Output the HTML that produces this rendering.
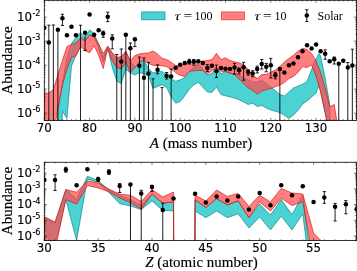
<!DOCTYPE html>
<html lang="en"><head><meta charset="utf-8"><title>Abundance vs mass number and atomic number</title>
<style>html,body{margin:0;padding:0;background:#fff}body{width:357px;height:271px;overflow:hidden}svg{display:block}</style>
</head><body>
<svg width="357" height="271" viewBox="0 0 357 271">
<rect width="357" height="271" fill="#fff"/>
<defs><clipPath id="ct"><rect x="44.3" y="0.3" width="312.2" height="120.1"/></clipPath><clipPath id="cb"><rect x="44.3" y="162.25" width="312.2" height="78.35"/></clipPath></defs>
<g clip-path="url(#ct)">
<path d="M44.3,400 L48.83,400 L53.36,400 L57.89,110 L62.42,84 L66.95,58 L71.48,43.5 L76.01,37.4 L80.54,32.2 L80.63,32.2 L85.07,38.5 L89.6,29.8 L94.13,33.4 L98.66,44.3 L103.19,58 L107.72,46.5 L112.25,53.5 L116.78,58.5 L121.31,57.5 L125.84,52 L130.37,61.5 L134.9,67.5 L139.43,62.5 L143.96,60.3 L148.49,68.5 L153.02,73 L157.55,71.8 L162.08,71.6 L166.61,75 L171.14,79 L175.67,81.3 L180.2,79.8 L184.73,77.6 L189.26,72.2 L193.79,67.5 L198.32,63.8 L202.85,69.8 L207.38,75.2 L211.91,73.3 L216.44,66.8 L220.97,74.1 L225.5,71.3 L230.03,73 L234.56,74.1 L239.09,75.5 L243.62,77.5 L248.15,80 L252.68,82 L257.21,82.4 L261.74,80.6 L266.27,83.5 L270.8,87.3 L275.33,90.6 L279.86,94.6 L284.39,95.9 L288.92,92 L293.45,88 L297.98,86.2 L302.51,84.2 L307.04,81.4 L311.57,69.6 L316.1,58.5 L318.82,53.6 L320.63,56 L325.16,78 L329.69,104 L334.22,400 L338.75,400 L338.75,400 L334.22,400 L329.69,134 L325.16,113 L320.63,92 L318.82,85.5 L316.1,93 L311.57,97 L307.04,100.9 L302.51,104.2 L297.98,110.4 L293.45,114.9 L288.92,118.5 L284.39,115.2 L279.86,112.6 L275.33,111.3 L270.8,110 L266.27,108 L261.74,105.4 L257.21,106.5 L252.68,103.2 L248.15,104.5 L243.62,102 L239.09,99.8 L234.56,98.1 L230.03,96.9 L225.5,95.8 L220.97,94.6 L216.44,87 L211.91,92.4 L207.38,92 L202.85,87.3 L198.32,82.3 L193.79,85 L189.26,89.2 L184.73,95.9 L180.2,101.5 L175.67,103.2 L171.14,96.8 L166.61,87.4 L162.08,84.8 L157.55,86.5 L153.02,88.4 L148.49,76 L143.96,74 L139.43,72.5 L134.9,75 L130.37,73 L125.84,69.3 L121.31,83.5 L116.78,81.3 L112.25,67.4 L107.72,48.5 L103.19,62 L98.66,47.3 L94.13,37 L89.6,35.2 L85.07,40.8 L80.63,37.6 L80.54,46.6 L76.01,55.6 L71.48,66 L66.95,118.5 L62.42,111.3 L57.89,400 L53.36,400 L48.83,400 L44.3,400Z" fill="rgb(0,191,191)" fill-opacity="0.7" stroke="rgb(0,120,120)" stroke-opacity="0.75" stroke-width="0.8" stroke-linejoin="round"/>
<clipPath id="cy1"><path d="M44.3,400 L48.83,400 L53.36,400 L57.89,110 L62.42,84 L66.95,58 L71.48,43.5 L76.01,37.4 L80.54,32.2 L80.63,32.2 L85.07,38.5 L89.6,29.8 L94.13,33.4 L98.66,44.3 L103.19,58 L107.72,46.5 L112.25,53.5 L116.78,58.5 L121.31,57.5 L125.84,52 L130.37,61.5 L134.9,67.5 L139.43,62.5 L143.96,60.3 L148.49,68.5 L153.02,73 L157.55,71.8 L162.08,71.6 L166.61,75 L171.14,79 L175.67,81.3 L180.2,79.8 L184.73,77.6 L189.26,72.2 L193.79,67.5 L198.32,63.8 L202.85,69.8 L207.38,75.2 L211.91,73.3 L216.44,66.8 L220.97,74.1 L225.5,71.3 L230.03,73 L234.56,74.1 L239.09,75.5 L243.62,77.5 L248.15,80 L252.68,82 L257.21,82.4 L261.74,80.6 L266.27,83.5 L270.8,87.3 L275.33,90.6 L279.86,94.6 L284.39,95.9 L288.92,92 L293.45,88 L297.98,86.2 L302.51,84.2 L307.04,81.4 L311.57,69.6 L316.1,58.5 L318.82,53.6 L320.63,56 L325.16,78 L329.69,104 L334.22,400 L338.75,400 L338.75,400 L334.22,400 L329.69,134 L325.16,113 L320.63,92 L318.82,85.5 L316.1,93 L311.57,97 L307.04,100.9 L302.51,104.2 L297.98,110.4 L293.45,114.9 L288.92,118.5 L284.39,115.2 L279.86,112.6 L275.33,111.3 L270.8,110 L266.27,108 L261.74,105.4 L257.21,106.5 L252.68,103.2 L248.15,104.5 L243.62,102 L239.09,99.8 L234.56,98.1 L230.03,96.9 L225.5,95.8 L220.97,94.6 L216.44,87 L211.91,92.4 L207.38,92 L202.85,87.3 L198.32,82.3 L193.79,85 L189.26,89.2 L184.73,95.9 L180.2,101.5 L175.67,103.2 L171.14,96.8 L166.61,87.4 L162.08,84.8 L157.55,86.5 L153.02,88.4 L148.49,76 L143.96,74 L139.43,72.5 L134.9,75 L130.37,73 L125.84,69.3 L121.31,83.5 L116.78,81.3 L112.25,67.4 L107.72,48.5 L103.19,62 L98.66,47.3 L94.13,37 L89.6,35.2 L85.07,40.8 L80.63,37.6 L80.54,46.6 L76.01,55.6 L71.48,66 L66.95,118.5 L62.42,111.3 L57.89,400 L53.36,400 L48.83,400 L44.3,400Z"/></clipPath>
<path d="M44.3,93.4 L48.83,93 L53.36,89.5 L57.89,75 L62.42,60.5 L66.95,46.6 L71.48,44.4 L76.01,43 L80.54,38 L80.63,38 L85.07,40.8 L89.6,35.2 L94.13,36.8 L98.66,44 L103.19,53.5 L107.72,46.2 L112.25,52.8 L116.78,57.5 L121.31,56.5 L125.84,51.2 L130.37,60.7 L134.9,55.6 L139.43,54 L143.96,53.2 L148.49,53 L153.02,51.1 L157.55,54 L162.08,58.4 L166.61,59.6 L171.14,62.2 L175.67,65.5 L180.2,66 L184.73,63.5 L189.26,62.5 L193.79,62 L198.32,61.5 L202.85,61.2 L207.38,60.6 L211.91,59.5 L216.44,53.4 L220.97,59.5 L225.5,57.8 L230.03,60.6 L234.56,61.8 L239.09,62.9 L243.62,64.6 L248.15,69.6 L252.68,75.2 L257.21,78.5 L261.74,74.6 L266.27,74.5 L270.8,72.3 L275.33,70 L279.86,66.5 L284.39,62 L288.92,58.5 L293.45,55.2 L297.98,51.3 L302.51,48.2 L307.04,49.5 L311.57,53.5 L316.1,61 L318.82,68 L320.63,72.5 L325.16,88 L329.69,106.8 L334.22,104.6 L338.75,133 L338.75,400 L334.22,400 L329.69,134 L325.16,113 L320.63,92 L318.82,85.5 L316.1,76 L311.57,65 L307.04,67.5 L302.51,66.7 L297.98,72.4 L293.45,76.4 L288.92,78.6 L284.39,82.5 L279.86,85 L275.33,86.7 L270.8,88.4 L266.27,89.5 L261.74,91 L257.21,94 L252.68,90.6 L248.15,87.8 L243.62,83.4 L239.09,79 L234.56,74.5 L230.03,73.2 L225.5,71.5 L220.97,71.3 L216.44,67.5 L211.91,70.7 L207.38,74.1 L202.85,70.4 L198.32,70.4 L193.79,70.8 L189.26,71.2 L184.73,76.5 L180.2,75.4 L175.67,72.6 L171.14,69.2 L166.61,66.8 L162.08,65.7 L157.55,65.7 L153.02,65.2 L148.49,63.5 L143.96,60.1 L139.43,62 L134.9,67.4 L130.37,72.5 L125.84,62 L121.31,69 L116.78,67.4 L112.25,60.7 L107.72,48.8 L103.19,68.5 L98.66,55 L94.13,45.8 L89.6,52.8 L85.07,50.6 L80.63,46.6 L80.54,46.6 L76.01,55.6 L71.48,57.5 L66.95,69.5 L62.42,85 L57.89,108 L53.36,136 L48.83,400 L44.3,400Z" fill="rgb(255,0,0)" fill-opacity="0.5"/>
<g clip-path="url(#cy1)"><path d="M44.3,93.4 L48.83,93 L53.36,89.5 L57.89,75 L62.42,60.5 L66.95,46.6 L71.48,44.4 L76.01,43 L80.54,38 L80.63,38 L85.07,40.8 L89.6,35.2 L94.13,36.8 L98.66,44 L103.19,53.5 L107.72,46.2 L112.25,52.8 L116.78,57.5 L121.31,56.5 L125.84,51.2 L130.37,60.7 L134.9,55.6 L139.43,54 L143.96,53.2 L148.49,53 L153.02,51.1 L157.55,54 L162.08,58.4 L166.61,59.6 L171.14,62.2 L175.67,65.5 L180.2,66 L184.73,63.5 L189.26,62.5 L193.79,62 L198.32,61.5 L202.85,61.2 L207.38,60.6 L211.91,59.5 L216.44,53.4 L220.97,59.5 L225.5,57.8 L230.03,60.6 L234.56,61.8 L239.09,62.9 L243.62,64.6 L248.15,69.6 L252.68,75.2 L257.21,78.5 L261.74,74.6 L266.27,74.5 L270.8,72.3 L275.33,70 L279.86,66.5 L284.39,62 L288.92,58.5 L293.45,55.2 L297.98,51.3 L302.51,48.2 L307.04,49.5 L311.57,53.5 L316.1,61 L318.82,68 L320.63,72.5 L325.16,88 L329.69,106.8 L334.22,104.6 L338.75,133 L338.75,400 L334.22,400 L329.69,134 L325.16,113 L320.63,92 L318.82,85.5 L316.1,76 L311.57,65 L307.04,67.5 L302.51,66.7 L297.98,72.4 L293.45,76.4 L288.92,78.6 L284.39,82.5 L279.86,85 L275.33,86.7 L270.8,88.4 L266.27,89.5 L261.74,91 L257.21,94 L252.68,90.6 L248.15,87.8 L243.62,83.4 L239.09,79 L234.56,74.5 L230.03,73.2 L225.5,71.5 L220.97,71.3 L216.44,67.5 L211.91,70.7 L207.38,74.1 L202.85,70.4 L198.32,70.4 L193.79,70.8 L189.26,71.2 L184.73,76.5 L180.2,75.4 L175.67,72.6 L171.14,69.2 L166.61,66.8 L162.08,65.7 L157.55,65.7 L153.02,65.2 L148.49,63.5 L143.96,60.1 L139.43,62 L134.9,67.4 L130.37,72.5 L125.84,62 L121.31,69 L116.78,67.4 L112.25,60.7 L107.72,48.8 L103.19,68.5 L98.66,55 L94.13,45.8 L89.6,52.8 L85.07,50.6 L80.63,46.6 L80.54,46.6 L76.01,55.6 L71.48,57.5 L66.95,69.5 L62.42,85 L57.89,108 L53.36,136 L48.83,400 L44.3,400Z" fill="rgb(211,109,113)"/></g>
<path d="M44.3,93.4 L48.83,93 L53.36,89.5 L57.89,75 L62.42,60.5 L66.95,46.6 L71.48,44.4 L76.01,43 L80.54,38 L80.63,38 L85.07,40.8 L89.6,35.2 L94.13,36.8 L98.66,44 L103.19,53.5 L107.72,46.2 L112.25,52.8 L116.78,57.5 L121.31,56.5 L125.84,51.2 L130.37,60.7 L134.9,55.6 L139.43,54 L143.96,53.2 L148.49,53 L153.02,51.1 L157.55,54 L162.08,58.4 L166.61,59.6 L171.14,62.2 L175.67,65.5 L180.2,66 L184.73,63.5 L189.26,62.5 L193.79,62 L198.32,61.5 L202.85,61.2 L207.38,60.6 L211.91,59.5 L216.44,53.4 L220.97,59.5 L225.5,57.8 L230.03,60.6 L234.56,61.8 L239.09,62.9 L243.62,64.6 L248.15,69.6 L252.68,75.2 L257.21,78.5 L261.74,74.6 L266.27,74.5 L270.8,72.3 L275.33,70 L279.86,66.5 L284.39,62 L288.92,58.5 L293.45,55.2 L297.98,51.3 L302.51,48.2 L307.04,49.5 L311.57,53.5 L316.1,61 L318.82,68 L320.63,72.5 L325.16,88 L329.69,106.8 L334.22,104.6 L338.75,133 L338.75,400 L334.22,400 L329.69,134 L325.16,113 L320.63,92 L318.82,85.5 L316.1,76 L311.57,65 L307.04,67.5 L302.51,66.7 L297.98,72.4 L293.45,76.4 L288.92,78.6 L284.39,82.5 L279.86,85 L275.33,86.7 L270.8,88.4 L266.27,89.5 L261.74,91 L257.21,94 L252.68,90.6 L248.15,87.8 L243.62,83.4 L239.09,79 L234.56,74.5 L230.03,73.2 L225.5,71.5 L220.97,71.3 L216.44,67.5 L211.91,70.7 L207.38,74.1 L202.85,70.4 L198.32,70.4 L193.79,70.8 L189.26,71.2 L184.73,76.5 L180.2,75.4 L175.67,72.6 L171.14,69.2 L166.61,66.8 L162.08,65.7 L157.55,65.7 L153.02,65.2 L148.49,63.5 L143.96,60.1 L139.43,62 L134.9,67.4 L130.37,72.5 L125.84,62 L121.31,69 L116.78,67.4 L112.25,60.7 L107.72,48.8 L103.19,68.5 L98.66,55 L94.13,45.8 L89.6,52.8 L85.07,50.6 L80.63,46.6 L80.54,46.6 L76.01,55.6 L71.48,57.5 L66.95,69.5 L62.42,85 L57.89,108 L53.36,136 L48.83,400 L44.3,400Z" fill="none" stroke="rgb(225,20,20)" stroke-opacity="0.8" stroke-width="0.85" stroke-linejoin="round"/>
<path d="M48.83,25.2V125M47.23,25.2H50.43M47.23,125H50.43M53.36,25V125M51.76,25H54.96M51.76,125H54.96M57.89,29.8V125M56.29,125H59.49M62.42,14.3V25.5M60.82,14.3H64.02M60.82,25.5H64.02M80.54,25.2V125M78.94,25.2H82.14M78.94,125H82.14M85.07,32.8V50.4M83.47,50.4H86.67M103.19,31.2V37.3M101.59,31.2H104.79M101.59,37.3H104.79M107.72,12.2V21.6M106.12,12.2H109.32M106.12,21.6H109.32M112.25,34.8V48.8M110.65,34.8H113.85M110.65,48.8H113.85M116.78,54.5V125M115.18,54.5H118.38M115.18,125H118.38M121.31,49V125M119.71,49H122.91M119.71,125H122.91M125.84,34.8V125M124.24,125H127.44M130.37,43V125M128.77,43H131.97M128.77,125H131.97M134.9,39.3V46.6M133.3,46.6H136.5M139.43,57.1V125M137.83,57.1H141.03M137.83,125H141.03M143.96,58V125M142.36,58H145.56M142.36,125H145.56M148.49,62.4V125M146.89,62.4H150.09M146.89,125H150.09M153.02,78.8V125M151.42,78.8H154.62M151.42,125H154.62M157.55,64.9V73.7M155.95,64.9H159.15M155.95,73.7H159.15M162.08,87.6V125M160.48,87.6H163.68M160.48,125H163.68M166.61,72.5V79M165.01,72.5H168.21M165.01,79H168.21M171.14,69.1V125M169.54,69.1H172.74M169.54,125H172.74M189.26,59.3V64M187.66,59.3H190.86M187.66,64H190.86M193.79,59.5V65.1M192.19,59.5H195.39M192.19,65.1H195.39M207.38,64.6V71.4M205.78,64.6H208.98M205.78,71.4H208.98M216.44,65.1V77.5M214.84,65.1H218.04M214.84,77.5H218.04M234.56,63.4V74.1M232.96,63.4H236.16M232.96,74.1H236.16M239.09,68V74M237.49,68H240.69M237.49,74H240.69M243.62,62.3V80.2M242.02,62.3H245.22M242.02,80.2H245.22M248.15,69.8V75.2M246.55,69.8H249.75M246.55,75.2H249.75M252.68,70.7V76.8M251.08,70.7H254.28M251.08,76.8H254.28M257.21,66.2V72.9M255.61,66.2H258.81M255.61,72.9H258.81M261.74,59.5V69M260.14,59.5H263.34M260.14,69H263.34M266.27,63.4V71.8M264.67,63.4H267.87M264.67,71.8H267.87M270.8,58.4V78M269.2,58.4H272.4M269.2,78H272.4M275.33,72.4V78.8M273.73,72.4H276.93M273.73,78.8H276.93M279.86,69V125M278.26,125H281.46M325.16,49.9V59.3M323.56,49.9H326.76M323.56,59.3H326.76M334.22,57V64M332.62,57H335.82M332.62,64H335.82M338.75,63.8V125M337.15,125H340.35M347.81,62.5V125M346.21,62.5H349.41M346.21,125H349.41M352.34,49.2V125M350.74,49.2H353.94M350.74,125H353.94" stroke="#000" stroke-width="0.88" fill="none"/>
<g fill="#000"><circle cx="44.3" cy="27.8" r="2.25"/><circle cx="48.83" cy="42.4" r="2.25"/><circle cx="57.89" cy="29.8" r="2.25"/><circle cx="62.42" cy="18.2" r="2.25"/><circle cx="66.95" cy="35.3" r="2.25"/><circle cx="71.48" cy="26.7" r="2.25"/><circle cx="76.01" cy="35.3" r="2.25"/><circle cx="85.07" cy="32.8" r="2.25"/><circle cx="89.6" cy="14.6" r="2.25"/><circle cx="94.13" cy="34.7" r="2.25"/><circle cx="98.66" cy="30.3" r="2.25"/><circle cx="103.19" cy="33.5" r="2.25"/><circle cx="107.72" cy="16.8" r="2.25"/><circle cx="112.25" cy="38.4" r="2.25"/><circle cx="121.31" cy="61.5" r="2.25"/><circle cx="125.84" cy="34.8" r="2.25"/><circle cx="130.37" cy="48.3" r="2.25"/><circle cx="134.9" cy="39.3" r="2.25"/><circle cx="139.43" cy="65.7" r="2.25"/><circle cx="143.96" cy="77.8" r="2.25"/><circle cx="148.49" cy="73.4" r="2.25"/><circle cx="157.55" cy="69.8" r="2.25"/><circle cx="166.61" cy="75.7" r="2.25"/><circle cx="171.14" cy="76.5" r="2.25"/><circle cx="175.67" cy="67.8" r="2.25"/><circle cx="180.2" cy="64.7" r="2.25"/><circle cx="184.73" cy="63" r="2.25"/><circle cx="189.26" cy="61.7" r="2.25"/><circle cx="193.79" cy="61.8" r="2.25"/><circle cx="198.32" cy="61.3" r="2.25"/><circle cx="202.85" cy="63" r="2.25"/><circle cx="207.38" cy="68" r="2.25"/><circle cx="211.91" cy="65.8" r="2.25"/><circle cx="216.44" cy="71.3" r="2.25"/><circle cx="220.97" cy="68" r="2.25"/><circle cx="225.5" cy="68.7" r="2.25"/><circle cx="230.03" cy="69" r="2.25"/><circle cx="234.56" cy="67.4" r="2.25"/><circle cx="239.09" cy="70.2" r="2.25"/><circle cx="243.62" cy="67.3" r="2.25"/><circle cx="248.15" cy="72" r="2.25"/><circle cx="252.68" cy="73.5" r="2.25"/><circle cx="257.21" cy="69" r="2.25"/><circle cx="261.74" cy="64" r="2.25"/><circle cx="266.27" cy="66.8" r="2.25"/><circle cx="270.8" cy="65.3" r="2.25"/><circle cx="275.33" cy="75.2" r="2.25"/><circle cx="279.86" cy="69" r="2.25"/><circle cx="284.39" cy="72.4" r="2.25"/><circle cx="288.92" cy="65.3" r="2.25"/><circle cx="293.45" cy="63.6" r="2.25"/><circle cx="297.98" cy="57.2" r="2.25"/><circle cx="302.51" cy="51.3" r="2.25"/><circle cx="307.04" cy="45.2" r="2.25"/><circle cx="311.57" cy="48.5" r="2.25"/><circle cx="316.1" cy="44.6" r="2.25"/><circle cx="320.63" cy="51.3" r="2.25"/><circle cx="325.16" cy="53.8" r="2.25"/><circle cx="329.69" cy="61.3" r="2.25"/><circle cx="334.22" cy="59.3" r="2.25"/><circle cx="338.75" cy="63.8" r="2.25"/><circle cx="343.28" cy="60.8" r="2.25"/><circle cx="347.81" cy="67.6" r="2.25"/><circle cx="352.34" cy="65.4" r="2.25"/></g>
</g>
<path d="M44.3,120.4v-2.6M44.3,0.3v2.6M48.83,120.4v-1.3M48.83,0.3v1.3M53.36,120.4v-1.3M53.36,0.3v1.3M57.89,120.4v-1.3M57.89,0.3v1.3M62.42,120.4v-1.3M62.42,0.3v1.3M66.95,120.4v-1.3M66.95,0.3v1.3M71.48,120.4v-1.3M71.48,0.3v1.3M76.01,120.4v-1.3M76.01,0.3v1.3M80.54,120.4v-1.3M80.54,0.3v1.3M85.07,120.4v-1.3M85.07,0.3v1.3M89.6,120.4v-2.6M89.6,0.3v2.6M94.13,120.4v-1.3M94.13,0.3v1.3M98.66,120.4v-1.3M98.66,0.3v1.3M103.19,120.4v-1.3M103.19,0.3v1.3M107.72,120.4v-1.3M107.72,0.3v1.3M112.25,120.4v-1.3M112.25,0.3v1.3M116.78,120.4v-1.3M116.78,0.3v1.3M121.31,120.4v-1.3M121.31,0.3v1.3M125.84,120.4v-1.3M125.84,0.3v1.3M130.37,120.4v-1.3M130.37,0.3v1.3M134.9,120.4v-2.6M134.9,0.3v2.6M139.43,120.4v-1.3M139.43,0.3v1.3M143.96,120.4v-1.3M143.96,0.3v1.3M148.49,120.4v-1.3M148.49,0.3v1.3M153.02,120.4v-1.3M153.02,0.3v1.3M157.55,120.4v-1.3M157.55,0.3v1.3M162.08,120.4v-1.3M162.08,0.3v1.3M166.61,120.4v-1.3M166.61,0.3v1.3M171.14,120.4v-1.3M171.14,0.3v1.3M175.67,120.4v-1.3M175.67,0.3v1.3M180.2,120.4v-2.6M180.2,0.3v2.6M184.73,120.4v-1.3M184.73,0.3v1.3M189.26,120.4v-1.3M189.26,0.3v1.3M193.79,120.4v-1.3M193.79,0.3v1.3M198.32,120.4v-1.3M198.32,0.3v1.3M202.85,120.4v-1.3M202.85,0.3v1.3M207.38,120.4v-1.3M207.38,0.3v1.3M211.91,120.4v-1.3M211.91,0.3v1.3M216.44,120.4v-1.3M216.44,0.3v1.3M220.97,120.4v-1.3M220.97,0.3v1.3M225.5,120.4v-2.6M225.5,0.3v2.6M230.03,120.4v-1.3M230.03,0.3v1.3M234.56,120.4v-1.3M234.56,0.3v1.3M239.09,120.4v-1.3M239.09,0.3v1.3M243.62,120.4v-1.3M243.62,0.3v1.3M248.15,120.4v-1.3M248.15,0.3v1.3M252.68,120.4v-1.3M252.68,0.3v1.3M257.21,120.4v-1.3M257.21,0.3v1.3M261.74,120.4v-1.3M261.74,0.3v1.3M266.27,120.4v-1.3M266.27,0.3v1.3M270.8,120.4v-2.6M270.8,0.3v2.6M275.33,120.4v-1.3M275.33,0.3v1.3M279.86,120.4v-1.3M279.86,0.3v1.3M284.39,120.4v-1.3M284.39,0.3v1.3M288.92,120.4v-1.3M288.92,0.3v1.3M293.45,120.4v-1.3M293.45,0.3v1.3M297.98,120.4v-1.3M297.98,0.3v1.3M302.51,120.4v-1.3M302.51,0.3v1.3M307.04,120.4v-1.3M307.04,0.3v1.3M311.57,120.4v-1.3M311.57,0.3v1.3M316.1,120.4v-2.6M316.1,0.3v2.6M320.63,120.4v-1.3M320.63,0.3v1.3M325.16,120.4v-1.3M325.16,0.3v1.3M329.69,120.4v-1.3M329.69,0.3v1.3M334.22,120.4v-1.3M334.22,0.3v1.3M338.75,120.4v-1.3M338.75,0.3v1.3M343.28,120.4v-1.3M343.28,0.3v1.3M347.81,120.4v-1.3M347.81,0.3v1.3M352.34,120.4v-1.3M352.34,0.3v1.3M44.3,120.4h1.3M356.5,120.4h-1.3M44.3,118.5h1.3M356.5,118.5h-1.3M44.3,116.89h1.3M356.5,116.89h-1.3M44.3,115.5h1.3M356.5,115.5h-1.3M44.3,114.27h1.3M356.5,114.27h-1.3M44.3,113.17h2.6M356.5,113.17h-2.6M44.3,105.94h1.3M356.5,105.94h-1.3M44.3,101.71h1.3M356.5,101.71h-1.3M44.3,98.71h1.3M356.5,98.71h-1.3M44.3,96.38h1.3M356.5,96.38h-1.3M44.3,94.48h1.3M356.5,94.48h-1.3M44.3,92.87h1.3M356.5,92.87h-1.3M44.3,91.48h1.3M356.5,91.48h-1.3M44.3,90.25h1.3M356.5,90.25h-1.3M44.3,89.15h2.6M356.5,89.15h-2.6M44.3,81.92h1.3M356.5,81.92h-1.3M44.3,77.69h1.3M356.5,77.69h-1.3M44.3,74.69h1.3M356.5,74.69h-1.3M44.3,72.36h1.3M356.5,72.36h-1.3M44.3,70.46h1.3M356.5,70.46h-1.3M44.3,68.85h1.3M356.5,68.85h-1.3M44.3,67.46h1.3M356.5,67.46h-1.3M44.3,66.23h1.3M356.5,66.23h-1.3M44.3,65.13h2.6M356.5,65.13h-2.6M44.3,57.9h1.3M356.5,57.9h-1.3M44.3,53.67h1.3M356.5,53.67h-1.3M44.3,50.67h1.3M356.5,50.67h-1.3M44.3,48.34h1.3M356.5,48.34h-1.3M44.3,46.44h1.3M356.5,46.44h-1.3M44.3,44.83h1.3M356.5,44.83h-1.3M44.3,43.44h1.3M356.5,43.44h-1.3M44.3,42.21h1.3M356.5,42.21h-1.3M44.3,41.11h2.6M356.5,41.11h-2.6M44.3,33.88h1.3M356.5,33.88h-1.3M44.3,29.65h1.3M356.5,29.65h-1.3M44.3,26.65h1.3M356.5,26.65h-1.3M44.3,24.32h1.3M356.5,24.32h-1.3M44.3,22.42h1.3M356.5,22.42h-1.3M44.3,20.81h1.3M356.5,20.81h-1.3M44.3,19.42h1.3M356.5,19.42h-1.3M44.3,18.19h1.3M356.5,18.19h-1.3M44.3,17.09h2.6M356.5,17.09h-2.6M44.3,9.86h1.3M356.5,9.86h-1.3M44.3,5.63h1.3M356.5,5.63h-1.3M44.3,2.63h1.3M356.5,2.63h-1.3M44.3,0.3h1.3M356.5,0.3h-1.3" stroke="#000" stroke-width="0.5" fill="none"/>
<rect x="44.3" y="0.3" width="312.2" height="120.1" fill="none" stroke="#000" stroke-width="0.8"/>
<g clip-path="url(#cb)">
<path d="M44.3,216.8 L55.07,222.4 L65.84,189.6 L76.61,199.7 L87.38,176.2 L98.15,180.6 L108.92,190 L119.69,195.3 L130.46,199.8 L141.23,205.4 L152,194.2 L162.77,203.2 L173.54,202 L184.31,4500 L195.08,199.7 L205.85,207.6 L216.62,198.6 L227.39,204.9 L238.16,200.9 L248.93,217.7 L259.7,204 L270.47,215 L281.24,199.6 L292.01,214.6 L302.78,195 L313.55,280 L324.32,400 L324.32,400 L313.55,300 L302.78,213.8 L292.01,229.9 L281.24,216.3 L270.47,229.9 L259.7,216.9 L248.93,228 L238.16,213.8 L227.39,217.7 L216.62,211 L205.85,217.7 L195.08,211 L184.31,4500 L173.54,211 L162.77,210.4 L152,200.9 L141.23,209.5 L130.46,206 L119.69,203.7 L108.92,192.5 L98.15,182.3 L87.38,179.2 L76.61,240.5 L65.84,199.6 L55.07,246 L44.3,235.4Z" fill="rgb(0,191,191)" fill-opacity="0.7" stroke="rgb(0,120,120)" stroke-opacity="0.75" stroke-width="0.8" stroke-linejoin="round"/>
<clipPath id="cy2"><path d="M44.3,216.8 L55.07,222.4 L65.84,189.6 L76.61,199.7 L87.38,176.2 L98.15,180.6 L108.92,190 L119.69,195.3 L130.46,199.8 L141.23,205.4 L152,194.2 L162.77,203.2 L173.54,202 L184.31,4500 L195.08,199.7 L205.85,207.6 L216.62,198.6 L227.39,204.9 L238.16,200.9 L248.93,217.7 L259.7,204 L270.47,215 L281.24,199.6 L292.01,214.6 L302.78,195 L313.55,280 L324.32,400 L324.32,400 L313.55,300 L302.78,213.8 L292.01,229.9 L281.24,216.3 L270.47,229.9 L259.7,216.9 L248.93,228 L238.16,213.8 L227.39,217.7 L216.62,211 L205.85,217.7 L195.08,211 L184.31,4500 L173.54,211 L162.77,210.4 L152,200.9 L141.23,209.5 L130.46,206 L119.69,203.7 L108.92,192.5 L98.15,182.3 L87.38,179.2 L76.61,240.5 L65.84,199.6 L55.07,246 L44.3,235.4Z"/></clipPath>
<path d="M44.3,216.8 L55.07,222.4 L65.84,189.5 L76.61,192.3 L87.38,181 L98.15,183 L108.92,189 L119.69,194.2 L130.46,195.3 L141.23,201.5 L152,189.7 L162.77,197 L173.54,192 L184.31,4500 L195.08,195.3 L205.85,200.9 L216.62,190 L227.39,196.4 L238.16,193.4 L248.93,206.5 L259.7,195.3 L270.47,202 L281.24,188.5 L292.01,193 L302.78,194 L313.55,233 L324.32,244 L324.32,400 L313.55,262 L302.78,201.8 L292.01,205.5 L281.24,198.2 L270.47,211 L259.7,202 L248.93,217.7 L238.16,200.9 L227.39,204.9 L216.62,198.6 L205.85,207.6 L195.08,199.7 L184.31,4500 L173.54,202 L162.77,203.2 L152,194.2 L141.23,209.3 L130.46,202.6 L119.69,198.1 L108.92,191.8 L98.15,187.9 L87.38,185.6 L76.61,204.1 L65.84,199.6 L55.07,250 L44.3,246Z" fill="rgb(255,0,0)" fill-opacity="0.5"/>
<g clip-path="url(#cy2)"><path d="M44.3,216.8 L55.07,222.4 L65.84,189.5 L76.61,192.3 L87.38,181 L98.15,183 L108.92,189 L119.69,194.2 L130.46,195.3 L141.23,201.5 L152,189.7 L162.77,197 L173.54,192 L184.31,4500 L195.08,195.3 L205.85,200.9 L216.62,190 L227.39,196.4 L238.16,193.4 L248.93,206.5 L259.7,195.3 L270.47,202 L281.24,188.5 L292.01,193 L302.78,194 L313.55,233 L324.32,244 L324.32,400 L313.55,262 L302.78,201.8 L292.01,205.5 L281.24,198.2 L270.47,211 L259.7,202 L248.93,217.7 L238.16,200.9 L227.39,204.9 L216.62,198.6 L205.85,207.6 L195.08,199.7 L184.31,4500 L173.54,202 L162.77,203.2 L152,194.2 L141.23,209.3 L130.46,202.6 L119.69,198.1 L108.92,191.8 L98.15,187.9 L87.38,185.6 L76.61,204.1 L65.84,199.6 L55.07,250 L44.3,246Z" fill="rgb(211,109,113)"/></g>
<path d="M44.3,216.8 L55.07,222.4 L65.84,189.5 L76.61,192.3 L87.38,181 L98.15,183 L108.92,189 L119.69,194.2 L130.46,195.3 L141.23,201.5 L152,189.7 L162.77,197 L173.54,192 L184.31,4500 L195.08,195.3 L205.85,200.9 L216.62,190 L227.39,196.4 L238.16,193.4 L248.93,206.5 L259.7,195.3 L270.47,202 L281.24,188.5 L292.01,193 L302.78,194 L313.55,233 L324.32,244 L324.32,400 L313.55,262 L302.78,201.8 L292.01,205.5 L281.24,198.2 L270.47,211 L259.7,202 L248.93,217.7 L238.16,200.9 L227.39,204.9 L216.62,198.6 L205.85,207.6 L195.08,199.7 L184.31,4500 L173.54,202 L162.77,203.2 L152,194.2 L141.23,209.3 L130.46,202.6 L119.69,198.1 L108.92,191.8 L98.15,187.9 L87.38,185.6 L76.61,204.1 L65.84,199.6 L55.07,250 L44.3,246Z" fill="none" stroke="rgb(225,20,20)" stroke-opacity="0.8" stroke-width="0.85" stroke-linejoin="round"/>
<path d="M55.07,174.8V190.5M53.47,174.8H56.67M53.47,190.5H56.67M65.84,167.3V172.2M64.24,167.3H67.44M64.24,172.2H67.44M98.15,177.3V181.5M96.55,177.3H99.75M96.55,181.5H99.75M108.92,169.8V174.5M107.32,169.8H110.52M107.32,174.5H110.52M119.69,183.6V192.5M118.09,183.6H121.29M118.09,192.5H121.29M130.46,184.5V250M141.23,190.3V250M139.63,190.3H142.83M152,185.3V191.4M150.4,185.3H153.6M150.4,191.4H153.6M162.77,203.2V250M161.17,203.2H164.37M324.32,191.6V203.4M322.72,191.6H325.92M322.72,203.4H325.92M335.09,203.4V221M333.49,203.4H336.69M333.49,221H336.69M345.86,200.6V213.8M344.26,200.6H347.46M344.26,213.8H347.46" stroke="#000" stroke-width="0.88" fill="none"/>
<g fill="#000"><circle cx="44.3" cy="180" r="2.25"/><circle cx="55.07" cy="180" r="2.25"/><circle cx="65.84" cy="169.7" r="2.25"/><circle cx="76.61" cy="185.3" r="2.25"/><circle cx="87.38" cy="169.2" r="2.25"/><circle cx="98.15" cy="179.3" r="2.25"/><circle cx="108.92" cy="171.9" r="2.25"/><circle cx="119.69" cy="186.1" r="2.25"/><circle cx="130.46" cy="184.5" r="2.25"/><circle cx="141.23" cy="193.6" r="2.25"/><circle cx="152" cy="186.9" r="2.25"/><circle cx="162.77" cy="209.9" r="2.25"/><circle cx="173.54" cy="198.5" r="2.25"/><circle cx="195.08" cy="193.7" r="2.25"/><circle cx="205.85" cy="202.6" r="2.25"/><circle cx="216.62" cy="196.4" r="2.25"/><circle cx="227.39" cy="200.4" r="2.25"/><circle cx="238.16" cy="196.4" r="2.25"/><circle cx="248.93" cy="209.4" r="2.25"/><circle cx="259.7" cy="193" r="2.25"/><circle cx="270.47" cy="205.3" r="2.25"/><circle cx="281.24" cy="185.2" r="2.25"/><circle cx="292.01" cy="195.3" r="2.25"/><circle cx="302.78" cy="186.3" r="2.25"/><circle cx="313.55" cy="202" r="2.25"/><circle cx="324.32" cy="197.4" r="2.25"/><circle cx="335.09" cy="206.8" r="2.25"/><circle cx="345.86" cy="204.2" r="2.25"/><circle cx="356.63" cy="209.3" r="2.25"/></g>
</g>
<path d="M44.3,240.6v-2.6M44.3,162.25v2.6M55.07,240.6v-1.3M55.07,162.25v1.3M65.84,240.6v-1.3M65.84,162.25v1.3M76.61,240.6v-1.3M76.61,162.25v1.3M87.38,240.6v-1.3M87.38,162.25v1.3M98.15,240.6v-2.6M98.15,162.25v2.6M108.92,240.6v-1.3M108.92,162.25v1.3M119.69,240.6v-1.3M119.69,162.25v1.3M130.46,240.6v-1.3M130.46,162.25v1.3M141.23,240.6v-1.3M141.23,162.25v1.3M152,240.6v-2.6M152,162.25v2.6M162.77,240.6v-1.3M162.77,162.25v1.3M173.54,240.6v-1.3M173.54,162.25v1.3M184.31,240.6v-1.3M184.31,162.25v1.3M195.08,240.6v-1.3M195.08,162.25v1.3M205.85,240.6v-2.6M205.85,162.25v2.6M216.62,240.6v-1.3M216.62,162.25v1.3M227.39,240.6v-1.3M227.39,162.25v1.3M238.16,240.6v-1.3M238.16,162.25v1.3M248.93,240.6v-1.3M248.93,162.25v1.3M259.7,240.6v-2.6M259.7,162.25v2.6M270.47,240.6v-1.3M270.47,162.25v1.3M281.24,240.6v-1.3M281.24,162.25v1.3M292.01,240.6v-1.3M292.01,162.25v1.3M302.78,240.6v-1.3M302.78,162.25v1.3M313.55,240.6v-2.6M313.55,162.25v2.6M324.32,240.6v-1.3M324.32,162.25v1.3M335.09,240.6v-1.3M335.09,162.25v1.3M345.86,240.6v-1.3M345.86,162.25v1.3M44.3,240.6h1.3M356.5,240.6h-1.3M44.3,239.36h1.3M356.5,239.36h-1.3M44.3,238.31h1.3M356.5,238.31h-1.3M44.3,237.4h1.3M356.5,237.4h-1.3M44.3,236.6h1.3M356.5,236.6h-1.3M44.3,235.88h2.6M356.5,235.88h-2.6M44.3,231.16h1.3M356.5,231.16h-1.3M44.3,228.4h1.3M356.5,228.4h-1.3M44.3,226.45h1.3M356.5,226.45h-1.3M44.3,224.93h1.3M356.5,224.93h-1.3M44.3,223.69h1.3M356.5,223.69h-1.3M44.3,222.64h1.3M356.5,222.64h-1.3M44.3,221.73h1.3M356.5,221.73h-1.3M44.3,220.93h1.3M356.5,220.93h-1.3M44.3,220.21h2.6M356.5,220.21h-2.6M44.3,215.49h1.3M356.5,215.49h-1.3M44.3,212.73h1.3M356.5,212.73h-1.3M44.3,210.78h1.3M356.5,210.78h-1.3M44.3,209.26h1.3M356.5,209.26h-1.3M44.3,208.02h1.3M356.5,208.02h-1.3M44.3,206.97h1.3M356.5,206.97h-1.3M44.3,206.06h1.3M356.5,206.06h-1.3M44.3,205.26h1.3M356.5,205.26h-1.3M44.3,204.54h2.6M356.5,204.54h-2.6M44.3,199.82h1.3M356.5,199.82h-1.3M44.3,197.06h1.3M356.5,197.06h-1.3M44.3,195.11h1.3M356.5,195.11h-1.3M44.3,193.59h1.3M356.5,193.59h-1.3M44.3,192.35h1.3M356.5,192.35h-1.3M44.3,191.3h1.3M356.5,191.3h-1.3M44.3,190.39h1.3M356.5,190.39h-1.3M44.3,189.59h1.3M356.5,189.59h-1.3M44.3,188.87h2.6M356.5,188.87h-2.6M44.3,184.15h1.3M356.5,184.15h-1.3M44.3,181.39h1.3M356.5,181.39h-1.3M44.3,179.44h1.3M356.5,179.44h-1.3M44.3,177.92h1.3M356.5,177.92h-1.3M44.3,176.68h1.3M356.5,176.68h-1.3M44.3,175.63h1.3M356.5,175.63h-1.3M44.3,174.72h1.3M356.5,174.72h-1.3M44.3,173.92h1.3M356.5,173.92h-1.3M44.3,173.2h2.6M356.5,173.2h-2.6M44.3,168.48h1.3M356.5,168.48h-1.3M44.3,165.72h1.3M356.5,165.72h-1.3M44.3,163.77h1.3M356.5,163.77h-1.3M44.3,162.25h1.3M356.5,162.25h-1.3" stroke="#000" stroke-width="0.5" fill="none"/>
<rect x="44.3" y="162.25" width="312.2" height="78.35" fill="none" stroke="#000" stroke-width="0.8"/>
<g font-family="'DejaVu Sans', 'Liberation Sans', sans-serif" font-size="11.8px" fill="#000" stroke="#000" stroke-width="0.15">
<text x="44.3" y="132" text-anchor="middle">70</text>
<text x="89.6" y="132" text-anchor="middle">80</text>
<text x="134.9" y="132" text-anchor="middle">90</text>
<text x="180.2" y="132" text-anchor="middle">100</text>
<text x="225.5" y="132" text-anchor="middle">110</text>
<text x="270.8" y="132" text-anchor="middle">120</text>
<text x="316.1" y="132" text-anchor="middle">130</text>
<text x="44.3" y="252.4" text-anchor="middle">30</text>
<text x="98.15" y="252.4" text-anchor="middle">35</text>
<text x="152" y="252.4" text-anchor="middle">40</text>
<text x="205.85" y="252.4" text-anchor="middle">45</text>
<text x="259.7" y="252.4" text-anchor="middle">50</text>
<text x="313.55" y="252.4" text-anchor="middle">55</text>
<text x="31.9" y="20.99" text-anchor="end">10</text><text x="32.4" y="16.19" font-size="8.2px">-2</text>
<text x="31.9" y="177.1" text-anchor="end">10</text><text x="32.4" y="172.3" font-size="8.2px">-2</text>
<text x="31.9" y="45.01" text-anchor="end">10</text><text x="32.4" y="40.21" font-size="8.2px">-3</text>
<text x="31.9" y="192.77" text-anchor="end">10</text><text x="32.4" y="187.97" font-size="8.2px">-3</text>
<text x="31.9" y="69.03" text-anchor="end">10</text><text x="32.4" y="64.23" font-size="8.2px">-4</text>
<text x="31.9" y="208.44" text-anchor="end">10</text><text x="32.4" y="203.64" font-size="8.2px">-4</text>
<text x="31.9" y="93.05" text-anchor="end">10</text><text x="32.4" y="88.25" font-size="8.2px">-5</text>
<text x="31.9" y="224.11" text-anchor="end">10</text><text x="32.4" y="219.31" font-size="8.2px">-5</text>
<text x="31.9" y="117.07" text-anchor="end">10</text><text x="32.4" y="112.27" font-size="8.2px">-6</text>
<text x="31.9" y="239.78" text-anchor="end">10</text><text x="32.4" y="234.98" font-size="8.2px">-6</text>
</g>
<g font-family="'Liberation Serif', serif" font-size="15px" fill="#000" stroke="#000" stroke-width="0.15">
<text x="201" y="148.3" text-anchor="middle"><tspan font-style="italic">A</tspan> (mass number)</text>
<text x="201.4" y="267.2" text-anchor="middle"><tspan font-style="italic">Z</tspan> (atomic number)</text>
<text transform="translate(11.8,60.4) rotate(-90)" text-anchor="middle">Abundance</text>
<text transform="translate(11.8,201) rotate(-90)" text-anchor="middle">Abundance</text>
</g>
<g>
<rect x="141.7" y="11.9" width="23.3" height="7.9" fill="rgb(0,191,191)" fill-opacity="0.7" stroke="rgb(0,120,120)" stroke-opacity="0.75" stroke-width="0.8"/>
<rect x="221.4" y="11.9" width="23.2" height="7.9" fill="rgb(255,0,0)" fill-opacity="0.5" stroke="rgb(225,20,20)" stroke-opacity="0.7" stroke-width="0.8"/>
<g font-family="'Liberation Serif', serif" font-size="12px" fill="#000">
<text transform="translate(173.5,19.8) skewX(-14) scale(1.35,1)">τ</text><text transform="translate(183.4,19.9) scale(1.28,1)">=</text><text x="194.6" y="19.8">100</text>
<text transform="translate(253.3,19.8) skewX(-14) scale(1.35,1)">τ</text><text transform="translate(263,19.9) scale(1.28,1)">=</text><text x="274.4" y="19.8">10</text>
<text x="317.5" y="19.6">Solar</text>
</g>
<path d="M306.8,9.7V21.5M305.3,9.7h3M305.3,21.5h3" stroke="#000" stroke-width="0.95" fill="none"/><circle cx="306.8" cy="15.6" r="2.25" fill="#000"/>
</g>
</svg>
</body></html>
